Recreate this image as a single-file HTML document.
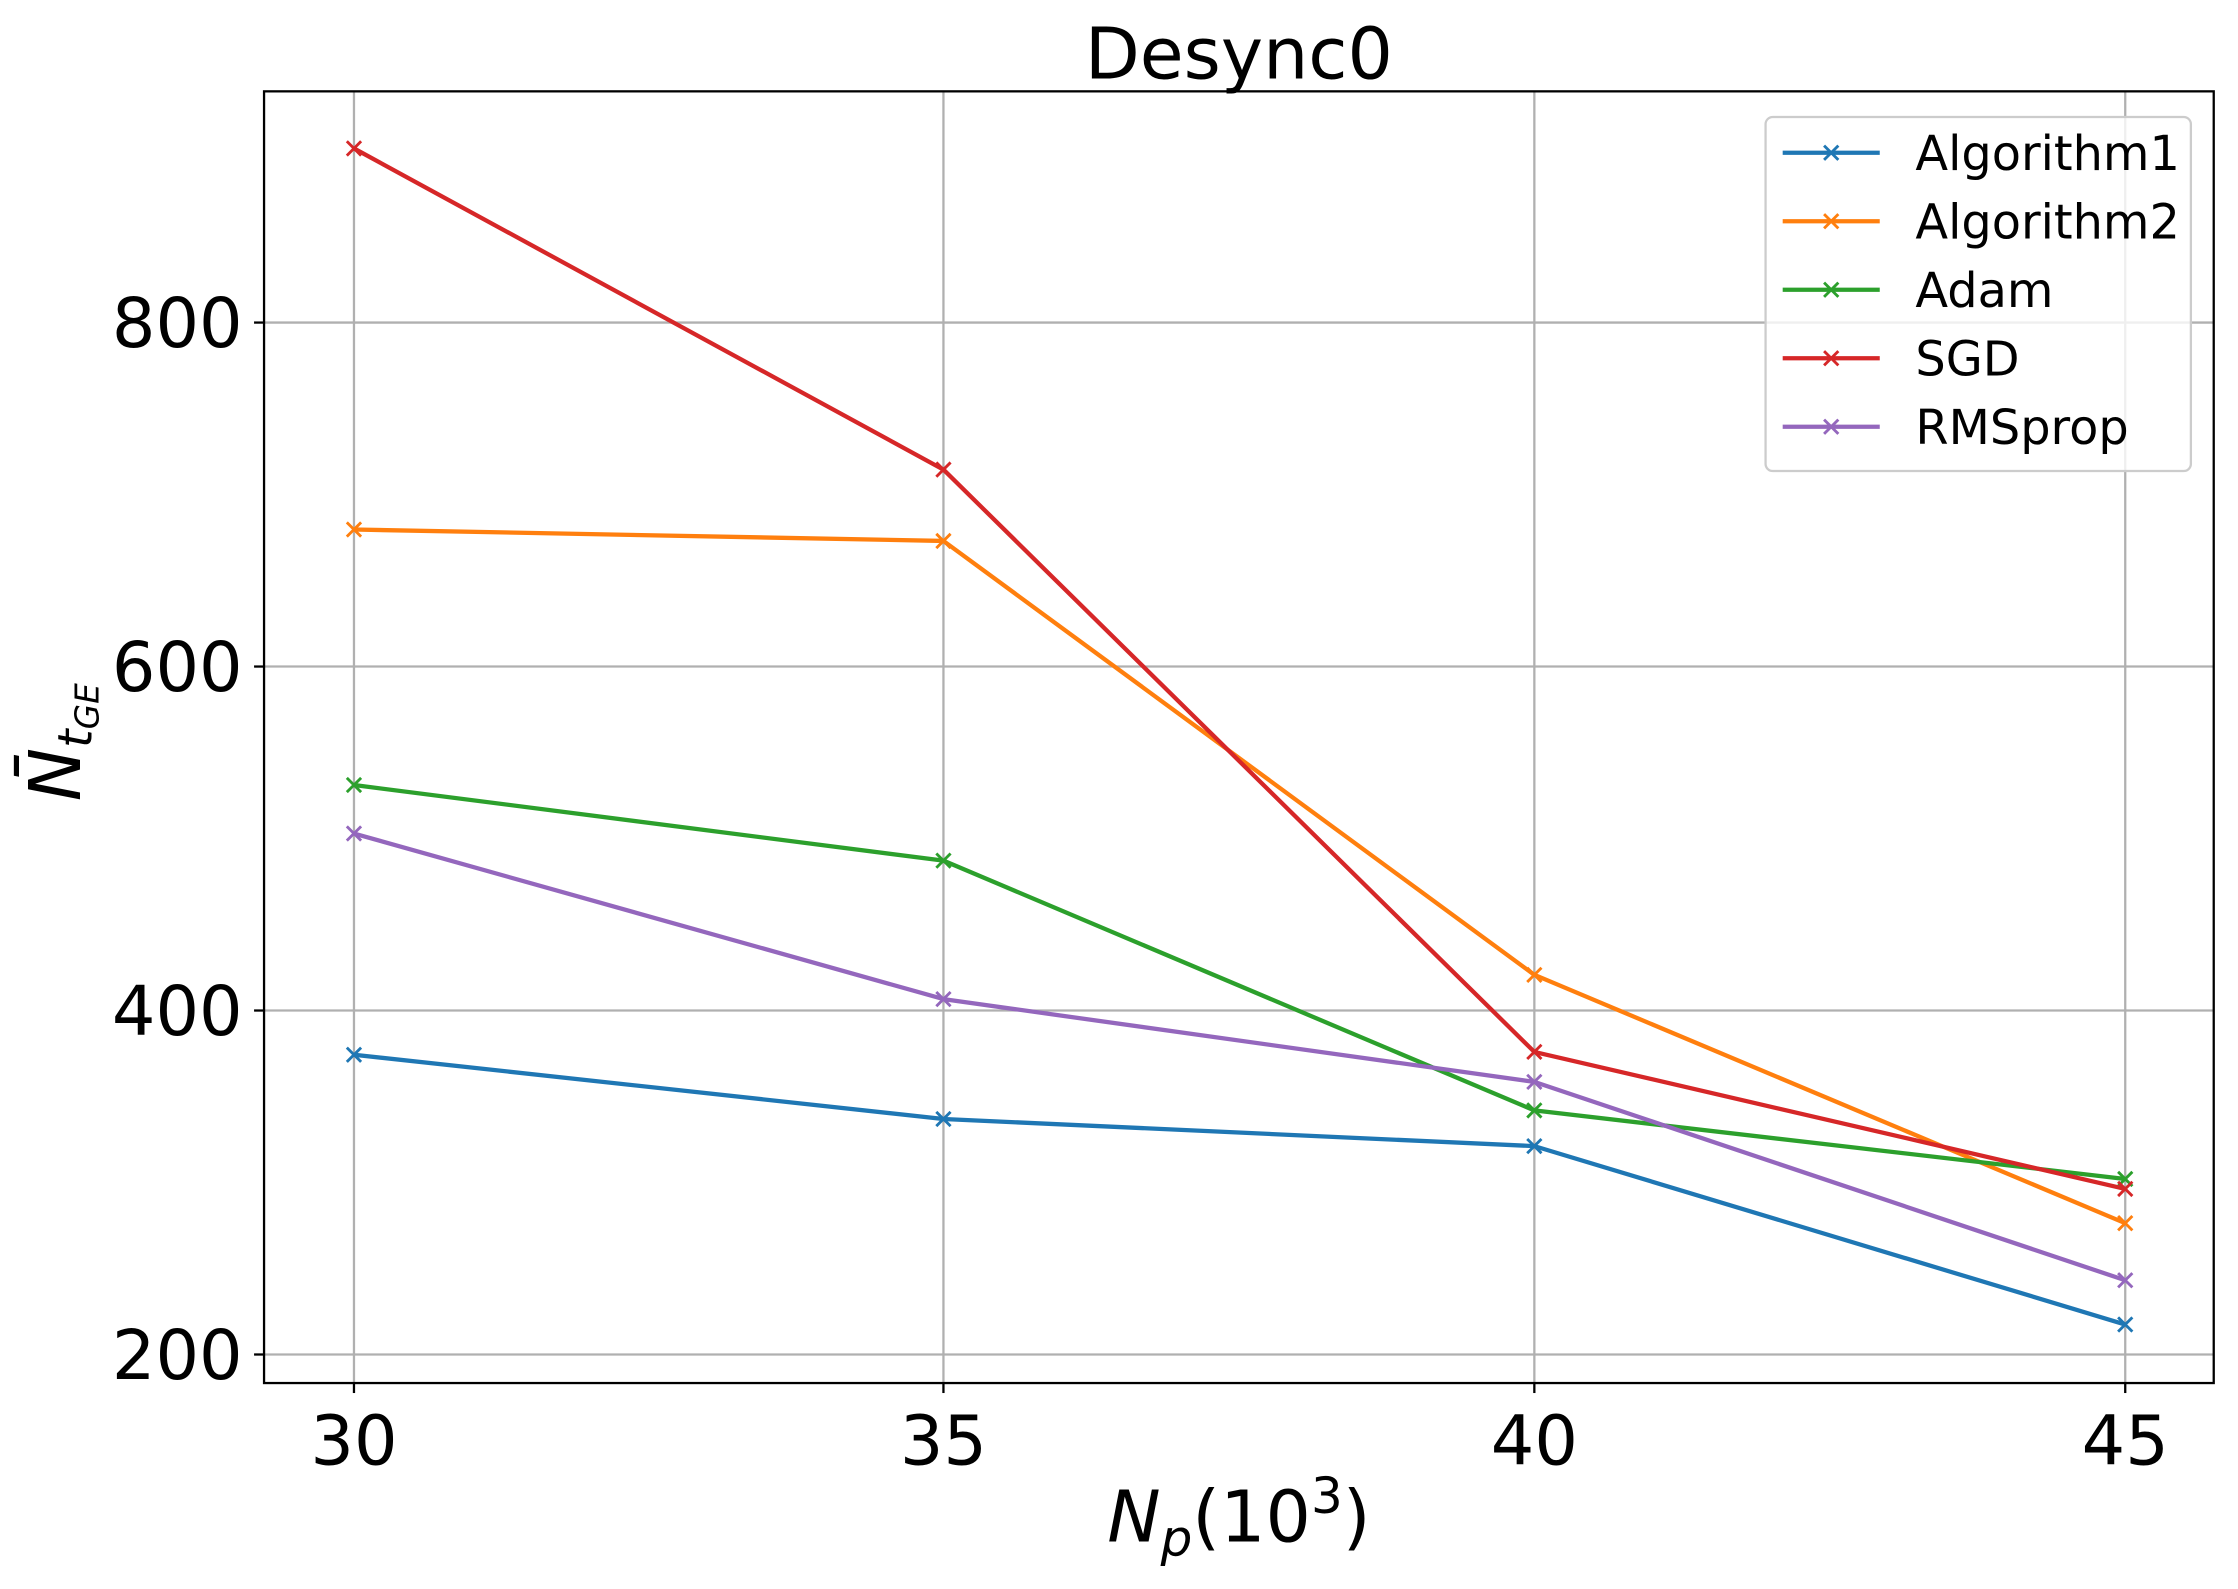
<!DOCTYPE html>
<html><head><meta charset="utf-8"><style>html,body{margin:0;padding:0;background:#fff}svg{display:block}</style></head>
<body>
<svg width="2238" height="1589" viewBox="0 0 1568 1113.3" xmlns="http://www.w3.org/2000/svg" font-family="DejaVu Sans, Liberation Sans, sans-serif">
<rect width="1568" height="1113.3" fill="#fff"/>
<g stroke="#b0b0b0" stroke-width="1.6">
<line x1="248" y1="64" x2="248" y2="969"/><line x1="661" y1="64" x2="661" y2="969"/>
<line x1="1075" y1="64" x2="1075" y2="969"/><line x1="1489" y1="64" x2="1489" y2="969"/>
<line x1="185" y1="226" x2="1551" y2="226"/><line x1="185" y1="467" x2="1551" y2="467"/>
<line x1="185" y1="708" x2="1551" y2="708"/><line x1="185" y1="949" x2="1551" y2="949"/>
</g>
<g stroke="#000" stroke-width="1.6">
<line x1="248" y1="969" x2="248" y2="976"/><line x1="661" y1="969" x2="661" y2="976"/>
<line x1="1075" y1="969" x2="1075" y2="976"/><line x1="1489" y1="969" x2="1489" y2="976"/>
<line x1="178" y1="226" x2="185" y2="226"/><line x1="178" y1="467" x2="185" y2="467"/>
<line x1="178" y1="708" x2="185" y2="708"/><line x1="178" y1="949" x2="185" y2="949"/>
</g>
<g font-size="48" fill="#000" text-anchor="middle">
<text x="248" y="1026">30</text><text x="661" y="1026">35</text><text x="1075" y="1026">40</text><text x="1489" y="1026">45</text>
</g>
<g font-size="48" fill="#000" text-anchor="end">
<text x="170" y="243">800</text><text x="170" y="484">600</text><text x="170" y="725">400</text><text x="170" y="966">200</text>
</g>
<text x="868" y="55" font-size="50" text-anchor="middle">Desync0</text>
<text x="868" y="1080" font-size="50" text-anchor="middle"><tspan font-style="italic">N</tspan><tspan font-style="italic" font-size="35" dy="10">p</tspan><tspan dy="-10">(10</tspan><tspan font-size="35" dy="-20">3</tspan><tspan dy="20">)</tspan></text>
<text transform="translate(56,520) rotate(-90)" font-size="50" text-anchor="middle"><tspan font-style="italic">N̄</tspan><tspan font-style="italic" font-size="33" dy="8">t</tspan><tspan font-style="italic" font-size="23" dy="5">GE</tspan></text>
<defs>
<g id="m"><path d="M-5,-5L5,5M-5,5L5,-5" stroke-width="2"/></g>
</defs>
<g fill="none" stroke-width="3" stroke-linejoin="round">
<g stroke="#1f77b4"><polyline points="248,739 661,784 1075,803 1489,928"/><use href="#m" x="248" y="739"/><use href="#m" x="661" y="784"/><use href="#m" x="1075" y="803"/><use href="#m" x="1489" y="928"/></g>
<g stroke="#ff7f0e"><polyline points="248,371 661,379 1075,683 1489,857"/><use href="#m" x="248" y="371"/><use href="#m" x="661" y="379"/><use href="#m" x="1075" y="683"/><use href="#m" x="1489" y="857"/></g>
<g stroke="#2ca02c"><polyline points="248,550 661,603 1075,778 1489,826"/><use href="#m" x="248" y="550"/><use href="#m" x="661" y="603"/><use href="#m" x="1075" y="778"/><use href="#m" x="1489" y="826"/></g>
<g stroke="#d62728"><polyline points="248,104 661,329 1075,737 1489,833"/><use href="#m" x="248" y="104"/><use href="#m" x="661" y="329"/><use href="#m" x="1075" y="737"/><use href="#m" x="1489" y="833"/></g>
<g stroke="#9467bd"><polyline points="248,584 661,700 1075,758 1489,897"/><use href="#m" x="248" y="584"/><use href="#m" x="661" y="700"/><use href="#m" x="1075" y="758"/><use href="#m" x="1489" y="897"/></g>
</g>
<rect x="185" y="64" width="1366" height="905" fill="none" stroke="#000" stroke-width="1.6"/>
<rect x="1237" y="82" width="298" height="248" rx="5" fill="#fff" fill-opacity="0.8" stroke="#ccc" stroke-width="1.6"/>
<g fill="none" stroke-width="3">
<g stroke="#1f77b4"><line x1="1249" y1="107" x2="1317" y2="107"/><use href="#m" x="1283" y="107"/></g>
<g stroke="#ff7f0e"><line x1="1249" y1="155" x2="1317" y2="155"/><use href="#m" x="1283" y="155"/></g>
<g stroke="#2ca02c"><line x1="1249" y1="203" x2="1317" y2="203"/><use href="#m" x="1283" y="203"/></g>
<g stroke="#d62728"><line x1="1249" y1="251" x2="1317" y2="251"/><use href="#m" x="1283" y="251"/></g>
<g stroke="#9467bd"><line x1="1249" y1="299" x2="1317" y2="299"/><use href="#m" x="1283" y="299"/></g>
</g>
<g font-size="33.5" fill="#000">
<text x="1342" y="119">Algorithm1</text><text x="1342" y="167">Algorithm2</text><text x="1342" y="215">Adam</text><text x="1342" y="263">SGD</text><text x="1342" y="311">RMSprop</text>
</g>
</svg>
</body></html>
